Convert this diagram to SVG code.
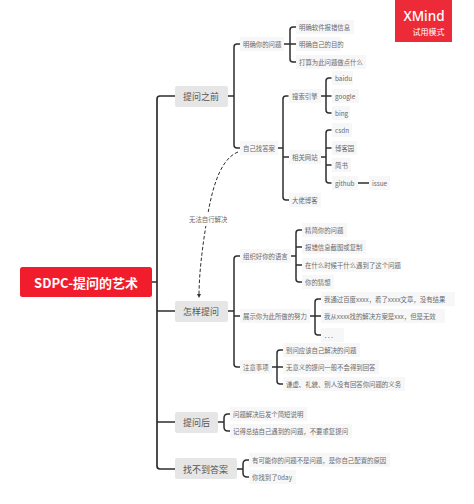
<svg xmlns="http://www.w3.org/2000/svg" width="474" height="504" viewBox="0 0 474 504">
<style>
text{font-family:"Noto Sans CJK SC","Noto Sans",sans-serif;dominant-baseline:central}
.c{fill:none;stroke:#2e2e2e;stroke-width:1.5;stroke-linecap:round}
.l{font-size:6.4px;fill:#6a6a6a}
.b{fill:#f7f7f7}
.m{fill:#e6e6e6}
.n{font-size:9px;fill:#555}
</style>
<defs><marker id="a" markerWidth="4" markerHeight="4" refX="2" refY="2" orient="auto"><path d="M0 0L4 2L0 4Z" fill="#333"/></marker></defs>
<rect width="474" height="504" fill="#fff"/>
<g id="connectors">
<path class="c" style="stroke-width:1.7" d="M152 282H157M175 96H160Q157 96 157 99V466Q157 469 160 469H175M157 311H175M157 422H175"/>
<path class="c" d="M228 96H234M237 44Q234 44 234 47V145Q234 148 237 148H241M237 44H241"/>
<path class="c" d="M281 44H290M296 27H293Q290 27 290 30V59Q290 62 293 62H296M290 44H296"/>
<path class="c" d="M277 148H283M288 96H286Q283 96 283 99V197Q283 200 286 200H290M283 157H290"/>
<path class="c" d="M320 96H326M331 78H329Q326 78 326 81V110Q326 113 329 113H331M326 96H331"/>
<path class="c" d="M320 157H326M331 130H329Q326 130 326 133V180Q326 183 329 183H331M326 148H331M326 165H331"/>
<path class="c" d="M358 183H369"/>
<path class="c" d="M228 311H234M240 256H237Q234 256 234 259V364Q234 367 237 367H240M234 316H240"/>
<path class="c" d="M290 256H296M302 230H299Q296 230 296 233V279Q296 282 299 282H302M296 247H302M296 265H302"/>
<path class="c" d="M309 316H315M321 299H318Q315 299 315 302V332Q315 335 318 335H321M315 316H321"/>
<path class="c" d="M271 367H277M283 350H280Q277 350 277 353V381Q277 384 280 384H283M277 367H283"/>
<path class="c" d="M218 422H224M231 414H228Q224 414 224 418V427Q224 431 228 431H231"/>
<path class="c" d="M237 469H243M250 460H247Q243 460 243 464V473Q243 477 247 477H250"/>
<path class="c" style="stroke-width:1;stroke-dasharray:3.5 2;stroke-linecap:butt" d="M238 152C217 160 210 200 206 225C202 250 199 275 199 296" marker-end="url(#a)"/>
</g>
<g id="root"><rect x="20" y="267" width="132" height="30" rx="2.5" fill="#f11d2d"/><text x="86" y="282" text-anchor="middle" font-size="13" font-weight="700" fill="#fff">SDPC-提问的艺术</text></g>
<g id="n1"><rect class="m" x="175" y="86" width="53" height="21" rx="2"/><text class="n" x="183" y="96">提问之前</text></g>
<g id="n2"><rect class="m" x="175" y="301" width="53" height="21" rx="2"/><text class="n" x="183" y="311">怎样提问</text></g>
<g id="n3"><rect class="m" x="175" y="412" width="43" height="21" rx="2"/><text class="n" x="183" y="422">提问后</text></g>
<g id="n4"><rect class="m" x="175" y="458" width="62" height="21" rx="2"/><text class="n" x="183" y="469">找不到答案</text></g>
<g id="a1"><rect class="b" x="240" y="37" width="44" height="14"/><text class="l" x="243" y="44">明确你的问题</text></g>
<g id="a2"><rect class="b" x="296" y="20" width="58" height="14"/><text class="l" x="299" y="27">明确软件报错信息</text></g>
<g id="a3"><rect class="b" x="296" y="37" width="45" height="14"/><text class="l" x="299" y="44">明确自己的目的</text></g>
<g id="a4"><rect class="b" x="296" y="55" width="70" height="14"/><text class="l" x="299" y="62">打算为此问题做点什么</text></g>
<g id="a5"><rect class="b" x="240" y="141" width="38" height="14"/><text class="l" x="243" y="148">自己找答案</text></g>
<g id="a6"><rect class="b" x="289" y="89" width="32" height="14"/><text class="l" x="292" y="96">搜索引擎</text></g>
<g id="a7"><rect class="b" x="332" y="71" width="21" height="14"/><text class="l" x="335" y="78">baidu</text></g>
<g id="a8"><rect class="b" x="332" y="89" width="27" height="14"/><text class="l" x="335" y="96">google</text></g>
<g id="a9"><rect class="b" x="332" y="106" width="18" height="14"/><text class="l" x="335" y="113">bing</text></g>
<g id="a10"><rect class="b" x="289" y="150" width="32" height="14"/><text class="l" x="292" y="157">相关网站</text></g>
<g id="a11"><rect class="b" x="332" y="123" width="20" height="14"/><text class="l" x="335" y="130">csdn</text></g>
<g id="a12"><rect class="b" x="332" y="141" width="25" height="14"/><text class="l" x="335" y="148">博客园</text></g>
<g id="a13"><rect class="b" x="332" y="158" width="19" height="14"/><text class="l" x="335" y="165">简书</text></g>
<g id="a14"><rect class="b" x="332" y="176" width="26" height="14"/><text class="l" x="335" y="183">github</text></g>
<g id="a15"><rect class="b" x="369" y="176" width="21" height="14"/><text class="l" x="372" y="183">issue</text></g>
<g id="a16"><rect class="b" x="289" y="193" width="32" height="14"/><text class="l" x="292" y="200">大佬博客</text></g>
<g id="label"><rect x="187" y="212" width="42" height="14" fill="#fff"/><text class="l" x="189" y="219">无法自行解决</text></g>
<g id="b1"><rect class="b" x="240" y="249" width="51" height="14"/><text class="l" x="243" y="256">组织好你的语言</text></g>
<g id="b2"><rect class="b" x="302" y="223" width="45" height="14"/><text class="l" x="305" y="230">精简你的问题</text></g>
<g id="b3"><rect class="b" x="302" y="240" width="64" height="14"/><text class="l" x="305" y="247">报错信息截图或复制</text></g>
<g id="b4"><rect class="b" x="302" y="258" width="96" height="14"/><text class="l" x="305" y="265">在什么时候干什么遇到了这个问题</text></g>
<g id="b5"><rect class="b" x="302" y="275" width="32" height="14"/><text class="l" x="305" y="282">你的猜想</text></g>
<g id="b6"><rect class="b" x="240" y="309" width="70" height="14"/><text class="l" x="243" y="316">展示你为此所做的努力</text></g>
<g id="b7"><rect class="b" x="321" y="292" width="134" height="14"/><text class="l" x="324" y="299">我通过百度xxxx，看了xxxx文章，没有结果</text></g>
<g id="b8"><rect class="b" x="321" y="309" width="124" height="14"/><text class="l" x="324" y="316">我从xxxx找的解决方案是xxx，但是无效</text></g>
<g id="b9"><rect class="b" x="321" y="328" width="23" height="14"/><text class="l" x="324" y="335">．．．</text></g>
<g id="b10"><rect class="b" x="240" y="360" width="32" height="14"/><text class="l" x="243" y="367">注意事项</text></g>
<g id="b11"><rect class="b" x="283" y="343" width="77" height="14"/><text class="l" x="286" y="350">别问应该自己解决的问题</text></g>
<g id="b12"><rect class="b" x="283" y="360" width="96" height="14"/><text class="l" x="286" y="367">无意义的提问一般不会得到回答</text></g>
<g id="b13"><rect class="b" x="283" y="377" width="122" height="14"/><text class="l" x="286" y="384">谦虚、礼貌、别人没有回答你问题的义务</text></g>
<g id="c1"><rect class="b" x="230" y="407" width="77" height="14"/><text class="l" x="233" y="414">问题解决后发个简短说明</text></g>
<g id="c2"><rect class="b" x="230" y="424" width="122" height="14"/><text class="l" x="233" y="431">记得总结自己遇到的问题，不要重复提问</text></g>
<g id="d1"><rect class="b" x="249" y="453" width="141" height="14"/><text class="l" x="252" y="460">有可能你的问题不是问题，是你自己配置的原因</text></g>
<g id="d2"><rect class="b" x="249" y="470" width="47" height="14"/><text class="l" x="252" y="477">你找到了0day</text></g>
<g id="brand"><rect x="395" y="0" width="57" height="42" fill="#ec2a38"/><text x="424" y="16" text-anchor="middle" font-size="13.500" font-weight="500" fill="#fff" style="font-family:'Noto Sans',sans-serif">XMind</text><text x="444.500" y="31.500" text-anchor="end" font-size="8" fill="#fff">试用模式</text></g>
</svg>
